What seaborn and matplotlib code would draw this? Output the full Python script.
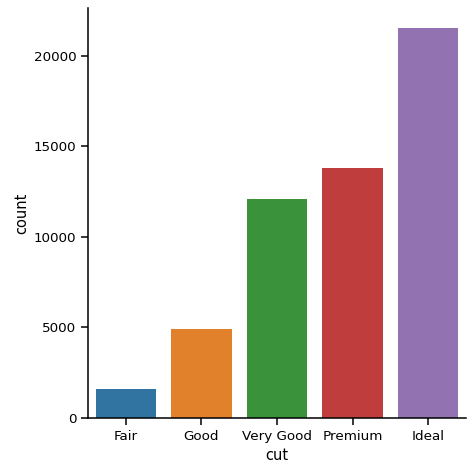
import matplotlib
matplotlib.use("Agg")
import matplotlib.pyplot as plt
import seaborn as sns
import pandas as pd

cuts = ["Fair", "Good", "Very Good", "Premium", "Ideal"]
counts = [1610, 4906, 12082, 13791, 21551]

sns.set_context("notebook")
df = pd.DataFrame({"cut": pd.Categorical(cuts, categories=cuts, ordered=True), "count": counts})

DPI = 88
g = sns.catplot(data=df, x="cut", y="count", hue="cut", kind="bar", palette="tab10",
                legend=False, height=474 / DPI, aspect=1)
g.ax.set_xlabel("cut")
g.ax.set_ylabel("count")
g.figure.subplots_adjust(left=88 / 474, right=466 / 474, top=1 - 8 / 474, bottom=1 - 418 / 474)
g.figure.savefig("out.png", dpi=DPI)
